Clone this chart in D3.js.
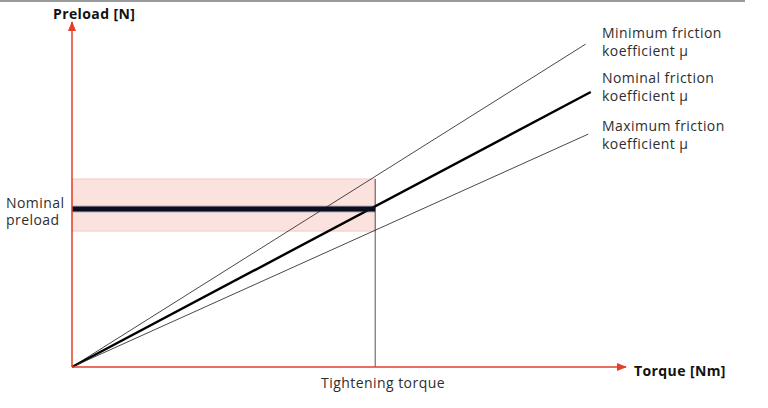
<!DOCTYPE html>
<html>
<head>
<meta charset="utf-8">
<title>Preload vs torque</title>
<script src="https://cdn.jsdelivr.net/npm/d3@7"></script>
<style>
  body { margin: 0; background: #fff; }
  svg { display: block; font-family: 'Open Sans', sans-serif; }
  .lbl { font-size: 14px; letter-spacing: 0.45px; fill: #2e2e2e; }
  .ttl { font-size: 14px; font-weight: bold; letter-spacing: 0.4px; fill: #111; }
</style>
</head>
<body>
<div id="chart"></div>
<script>
// ---- data ----
var frictionNames = ["Minimum friction", "Nominal friction", "Maximum friction"];
var lineEndTorque = [10.2, 10.3, 10.25];
var lineEndPreload = [9.36, 7.97, 6.75];
var tighteningTorque = 6.02;
var nominalPreload = 4.58;
var preloadBand = [3.94, 5.45];

var width = 768, height = 408;

var x = d3.scaleLinear().domain([0, 11]).range([72, 626]);
var y = d3.scaleLinear().domain([0, 10]).range([367, 22]);

var red = "#e2402a";

var svg = d3.select("#chart").append("svg")
  .attr("width", width)
  .attr("height", height);

// top grey rule
svg.append("line")
  .attr("x1", 0).attr("x2", 745).attr("y1", 1).attr("y2", 1)
  .attr("stroke", "#9a9a9a").attr("stroke-width", 2);

// tolerance band of the preload
svg.append("rect")
  .attr("x", x(0)).attr("width", x(tighteningTorque) - x(0))
  .attr("y", y(preloadBand[1])).attr("height", y(preloadBand[0]) - y(preloadBand[1]))
  .attr("fill", "#fbe2de").attr("stroke", "#f4c9c2").attr("stroke-width", 1);

// vertical line at tightening torque
svg.append("line")
  .attr("x1", x(tighteningTorque)).attr("x2", x(tighteningTorque))
  .attr("y1", y(preloadBand[1])).attr("y2", y(0))
  .attr("stroke", "#555").attr("stroke-width", 1);

// friction lines + their labels
var line = d3.line().x(function(d) { return x(d[0]); }).y(function(d) { return y(d[1]); });
var labelShift = [-6, -9, -3];  // nudge labels next to line ends
frictionNames.forEach(function(name, i) {
  svg.append("path")
    .datum([[0, 0], [lineEndTorque[i], lineEndPreload[i]]])
    .attr("d", line)
    .attr("fill", "none")
    .attr("stroke", i == 1 ? "#000" : "#333")
    .attr("stroke-width", i == 1 ? 2.4 : 0.9);

  var lx = 602, ly = y(lineEndPreload[i]) + labelShift[i];
  var t = svg.append("text").attr("class", "lbl").attr("x", lx).attr("y", ly);
  t.append("tspan").attr("x", lx).attr("dy", 0).text(name);
  t.append("tspan").attr("x", lx).attr("dy", 17.5).text("koefficient μ");
});

// nominal preload line
svg.append("line")
  .attr("x1", x(0)).attr("x2", x(tighteningTorque))
  .attr("y1", y(nominalPreload)).attr("y2", y(nominalPreload))
  .attr("stroke", "#3a4a8a").attr("stroke-width", 7).attr("stroke-opacity", 0.35);
svg.append("line")
  .attr("x1", x(0)).attr("x2", x(tighteningTorque))
  .attr("y1", y(nominalPreload)).attr("y2", y(nominalPreload))
  .attr("stroke", "#0a0e1c").attr("stroke-width", 5);

// axes with arrows
svg.append("defs").append("marker")
  .attr("id", "arrow").attr("viewBox", "0 0 10 10")
  .attr("refX", 9).attr("refY", 5)
  .attr("markerWidth", 7).attr("markerHeight", 7)
  .attr("orient", "auto")
  .append("path").attr("d", "M0,1L10,5L0,9Z").attr("fill", red);

svg.append("line")
  .attr("x1", x(0)).attr("x2", x(0)).attr("y1", y(0)).attr("y2", y(10))
  .attr("stroke", red).attr("stroke-width", 1.5).attr("marker-end", "url(#arrow)");
svg.append("line")
  .attr("x1", x(0)).attr("x2", x(11)).attr("y1", y(0)).attr("y2", y(0))
  .attr("stroke", red).attr("stroke-width", 1.5).attr("marker-end", "url(#arrow)");

// axis titles
svg.append("text").attr("class", "ttl")
  .attr("x", 53).attr("y", 19)
  .text("Preload [N]");
svg.append("text").attr("class", "ttl")
  .attr("x", 634).attr("y", 376)
  .text("Torque [Nm]");

svg.append("text").attr("class", "lbl")
  .attr("x", 383).attr("y", 388)
  .attr("text-anchor", "middle")
  .text("Tightening torque");

var np = svg.append("text").attr("class", "lbl");
np.append("tspan").attr("x", 6).attr("y", y(nominalPreload) - 1).text("Nominal");
np.append("tspan").attr("x", 6).attr("dy", 17.5).text("preload");
</script>
</body>
</html>
